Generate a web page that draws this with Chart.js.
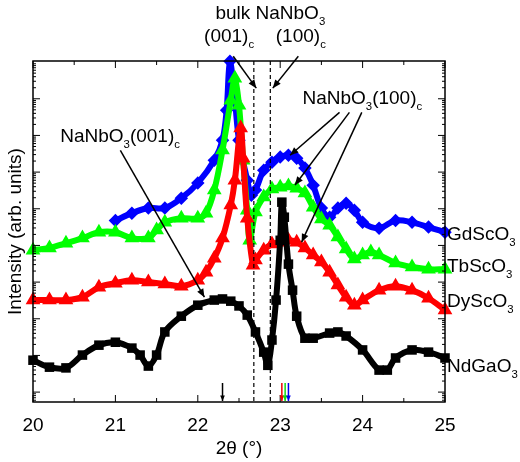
<!DOCTYPE html>
<html><head><meta charset="utf-8">
<script src="https://cdn.jsdelivr.net/npm/chart.js@4"></script>
<style>body{margin:0;background:#fff}#wrap{width:520px;height:462px}</style>
</head><body><div id="wrap"><canvas id="myChart" width="520" height="462"></canvas></div>
<script>
// y values: log10 intensity in decades (offset stacks)
const ndgaoX = [20,20.2,20.4,20.6,20.8,21.0,21.2,21.3,21.4,21.5,21.6,21.8,22.0,22.2,22.3,22.4,22.5,22.6,22.7,22.8,22.85,22.9,22.95,23.0,23.02,23.05,23.1,23.15,23.2,23.3,23.4,23.6,23.7,23.8,24.0,24.2,24.3,24.4,24.6,24.8,25]
const ndgaoY = [1.14,0.95,0.93,1.28,1.55,1.63,1.47,1.28,0.98,1.28,1.91,2.34,2.64,2.78,2.81,2.75,2.62,2.37,1.91,1.36,1.00,1.69,2.78,4.41,5.45,5.04,3.76,3.05,2.34,1.74,1.74,1.88,1.91,1.80,1.42,0.87,0.87,1.20,1.42,1.36,1.20]
const dyscoX = [20,20.2,20.4,20.6,20.8,21.0,21.2,21.4,21.6,21.8,22.0,22.1,22.2,22.3,22.4,22.45,22.52,22.55,22.6,22.67,22.7,22.8,22.9,23.0,23.1,23.2,23.3,23.4,23.5,23.6,23.7,23.8,23.9,24.0,24.2,24.4,24.6,24.8,25]
const dyscoY = [2.78,2.78,2.78,2.86,3.13,3.24,3.32,3.27,3.22,3.16,3.32,3.54,3.92,4.47,5.37,6.05,7.47,6.65,5.01,3.73,3.87,4.14,4.31,4.36,4.41,4.36,4.20,4.01,3.82,3.54,3.19,2.86,2.64,2.78,3.05,3.16,3.05,2.83,2.51]
const tbscoX = [20,20.2,20.4,20.6,20.8,21.0,21.2,21.4,21.5,21.6,21.8,22.0,22.1,22.2,22.3,22.4,22.45,22.5,22.55,22.6,22.63,22.7,22.8,22.9,23.0,23.1,23.2,23.3,23.4,23.5,23.6,23.7,23.8,23.9,24.0,24.1,24.2,24.4,24.6,24.8,25]
const tbscoY = [4.14,4.20,4.33,4.47,4.63,4.63,4.47,4.47,4.69,4.90,5.01,5.01,5.15,5.78,6.87,8.23,8.83,8.09,6.59,5.23,4.41,5.18,5.59,5.81,5.86,5.89,5.83,5.70,5.31,4.99,4.82,4.50,4.17,3.90,4.01,4.09,4.01,3.79,3.68,3.62,3.62]
const gdscoX = [21.0,21.2,21.4,21.6,21.8,22.0,22.2,22.3,22.35,22.39,22.45,22.5,22.6,22.65,22.7,22.8,22.9,23.0,23.1,23.2,23.3,23.4,23.5,23.6,23.7,23.8,23.9,24.0,24.2,24.4,24.6,24.8,25]
const gdscoY = [4.95,5.15,5.29,5.29,5.56,5.97,6.59,7.14,7.96,9.29,8.23,7.14,6.05,5.64,5.78,6.32,6.54,6.68,6.73,6.65,6.38,5.91,5.29,5.04,5.29,5.42,5.23,4.90,4.74,4.95,4.90,4.77,4.63]
const bulkLines = [22.68, 22.88]
const xTicks = [20,21,22,23,24,25]
const seriesLabels = [[4.6,'GdScO'],[3.73,'TbScO'],[2.78,'DyScO'],[1.0,'NdGaO']]
const bottomArrows = [[22.3,'#000'],[23.02,'#e00'],[23.06,'#1d1'],[23.1,'#00e']]

const pts = (xs,ys) => xs.map((x,i)=>({x, y: ys[i]}))
const ser = (xs,ys,color,style) => ({data: pts(xs,ys), borderColor: color, backgroundColor: color,
  pointStyle: style, pointRadius: 2.5, borderWidth: 6, tension: 0.35, showLine: true})

const YMAX = 9.3
const FONT = '"Liberation Sans", Arial'
function sub(ctx, parts, x, y, size, align){
  // parts: [text, isSub]
  const w = parts.reduce((s,[t,sb]) => { ctx.font = `${sb?size*0.6:size}px ${FONT}`; return s+ctx.measureText(t).width },0)
  let cx = align==='center' ? x-w/2 : x
  ctx.textBaseline = 'alphabetic'; ctx.textAlign = 'left'
  for(const [t,sb] of parts){
    ctx.font = `${sb?size*0.6:size}px ${FONT}`
    ctx.fillText(t, cx, sb ? y+size*0.3 : y)
    cx += ctx.measureText(t).width
  }
}
function arrow(ctx,x1,y1,x2,y2,color,head){
  ctx.strokeStyle = color; ctx.fillStyle = color; ctx.lineWidth = 1.5; ctx.setLineDash([])
  ctx.beginPath(); ctx.moveTo(x1,y1); ctx.lineTo(x2,y2); ctx.stroke()
  const a = Math.atan2(y2-y1,x2-x1), h = head||8
  ctx.beginPath(); ctx.moveTo(x2,y2)
  ctx.lineTo(x2-h*Math.cos(a-0.4), y2-h*Math.sin(a-0.4))
  ctx.lineTo(x2-h*Math.cos(a+0.4), y2-h*Math.sin(a+0.4)); ctx.closePath(); ctx.fill()
}

const deco = {
  id: 'deco',
  afterDraw(chart){
    const {ctx, chartArea: a, scales: {x, y}} = chart
    ctx.save()
    // dashed bulk lines
    ctx.strokeStyle = '#000'; ctx.lineWidth = 1.2; ctx.setLineDash([4,3])
    bulkLines.forEach(v => { ctx.beginPath(); ctx.moveTo(x.getPixelForValue(v), a.top); ctx.lineTo(x.getPixelForValue(v), a.bottom); ctx.stroke() })
    ctx.setLineDash([])
    // frame + inward ticks
    ctx.lineWidth = 1.5; ctx.strokeRect(a.left, a.top, a.right-a.left, a.bottom-a.top)
    ctx.lineWidth = 1
    for(let v=20; v<=25.001; v+=0.5){
      const px = x.getPixelForValue(v), L = Math.abs(v-Math.round(v))<0.01 ? 7 : 4
      ctx.beginPath(); ctx.moveTo(px,a.bottom); ctx.lineTo(px,a.bottom-L); ctx.moveTo(px,a.top); ctx.lineTo(px,a.top+L); ctx.stroke()
    }
    for(let d=0; d<10; d++){
      for(let m=1; m<10; m++){
        const v = d + 0.27 + Math.log10(m) - 1
        if(v<0 || v>YMAX) continue
        const py = y.getPixelForValue(v), L = m===1 ? 7 : 3
        ctx.beginPath(); ctx.moveTo(a.left,py); ctx.lineTo(a.left+L,py); ctx.moveTo(a.right,py); ctx.lineTo(a.right-L,py); ctx.stroke()
      }
    }
    // bottom arrows
    bottomArrows.forEach(([v,c]) => arrow(ctx, x.getPixelForValue(v), a.bottom-19, x.getPixelForValue(v), a.bottom-1, c, 6))
    // labels
    ctx.fillStyle = '#000'
    const fs = 19
    seriesLabels.forEach(([v,t]) => sub(ctx, [[t,false],['3',true]], a.right+2, y.getPixelForValue(v)+7, fs, 'left'))
    sub(ctx, [['bulk NaNbO',false],['3',true]], x.getPixelForValue(22.88), 19, fs, 'center')
    sub(ctx, [['(001)',false],['c',true]], x.getPixelForValue(22.38), 42, fs, 'center')
    sub(ctx, [['(100)',false],['c',true]], x.getPixelForValue(23.25), 42, fs, 'center')
    sub(ctx, [['NaNbO',false],['3',true],['(100)',false],['c',true]], x.getPixelForValue(23.27), 104, fs, 'left')
    sub(ctx, [['NaNbO',false],['3',true],['(001)',false],['c',true]], x.getPixelForValue(20.33), 142, fs, 'left')
    const P = (xv,yv) => [x.getPixelForValue(xv), y.getPixelForValue(yv)]
    const arr = (p,q) => arrow(ctx, ...P(...p), ...P(...q), '#000', 9)
    arr([22.43,9.43],[22.71,8.56])
    arr([23.22,9.43],[22.91,8.56])
    arr([23.72,7.90],[23.12,6.73])
    arr([23.84,7.90],[23.18,5.92])
    arr([23.99,7.90],[23.26,4.36])
    arr([21.06,6.86],[22.08,2.86])
    ctx.restore()
  }
}

new Chart(document.getElementById('myChart'), {
  type: 'scatter',
  data: { datasets: [
    ser(ndgaoX, ndgaoY, '#000', 'rect'),
    ser(dyscoX, dyscoY, '#f00', 'triangle'),
    ser(tbscoX, tbscoY, '#0f0', 'triangle'),
    ser(gdscoX, gdscoY, '#00f', 'rectRot')
  ]},
  plugins: [deco],
  options: {
    responsive: false, animation: false, clip: false,
    layout: { padding: { top: 61, right: 75, left: 0, bottom: 0 } },
    plugins: { legend: { display: false }, tooltip: { enabled: false } },
    scales: {
      x: { type: 'linear', min: 20, max: 25,
        afterBuildTicks: s => { s.ticks = xTicks.map(v => ({value: v})) },
        afterFit: s => { s.height = 60 },
        grid: { display: false }, border: { display: false },
        ticks: { color: '#000', font: { size: 19, family: FONT }, padding: 4, maxRotation: 0 },
        title: { display: true, text: '2θ (°)', color: '#000', font: { size: 19, family: FONT }, padding: 2 } },
      y: { min: 0, max: YMAX,
        afterFit: s => { s.width = 33 },
        grid: { display: false }, border: { display: false },
        ticks: { display: false },
        title: { display: true, text: 'Intensity (arb. units)', color: '#000', font: { size: 19, family: FONT }, padding: 4 } }
    }
  }
})
</script></body></html>
